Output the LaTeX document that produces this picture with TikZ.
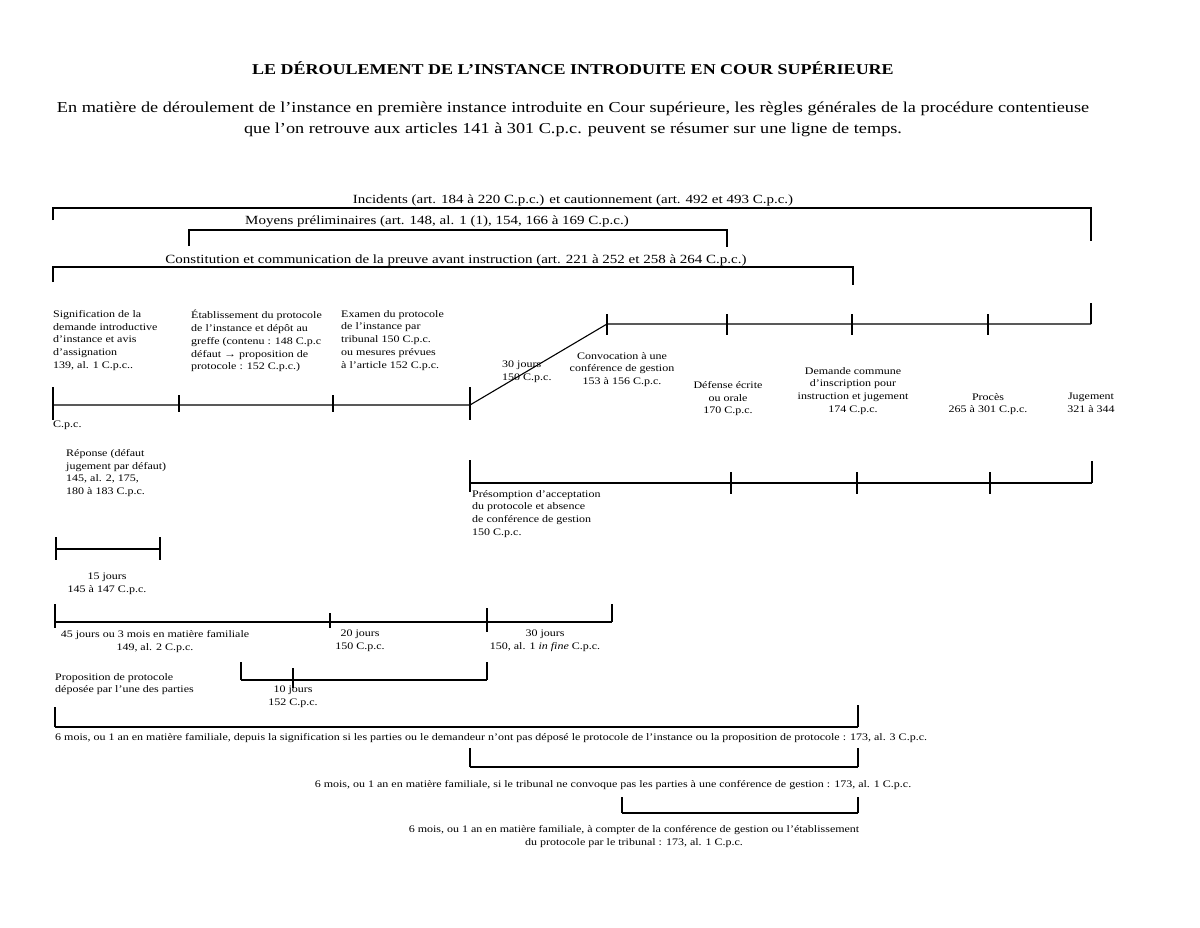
\documentclass[tikz,border=0pt]{standalone}
\usepackage{fontspec}
\setmainfont{Liberation Serif}[FakeStretch=1.2]
\begin{document}
\begin{tikzpicture}[x=1pt,y=-1pt,
  hl/.style={line width=1.1pt},
  tk/.style={line width=1.8pt},
  sm/.style={font=\fontsize{10}{12.8}\selectfont, inner sep=0pt},
  md/.style={font=\fontsize{12.5}{15}\selectfont, inner sep=0pt},
  lt/.style={sm, anchor=north west, align=left},
  ct/.style={sm, anchor=north, align=center}]
\useasboundingbox[fill=white] (0,0) rectangle (1200,927);
% title
\node[font=\fontsize{15}{18}\selectfont\bfseries, inner sep=0pt] (title) at (573,68) {LE DÉROULEMENT DE L’INSTANCE INTRODUITE EN COUR SUPÉRIEURE};
\node[font=\fontsize{15.2}{21}\selectfont, inner sep=0pt, align=center, anchor=north] (intro) at (573,102) {En matière de déroulement de l’instance en première instance introduite en Cour supérieure, les règles générales de la procédure contentieuse\\que l’on retrouve aux articles 141 à 301 C.p.c. peuvent se résumer sur une ligne de temps.};
% top brackets
\node[md, anchor=north] (inc) at (573,195) {Incidents (art. 184 à 220 C.p.c.) et cautionnement (art. 492 et 493 C.p.c.)};
\coordinate (incA) at (53,220); \coordinate (incB) at (53,208);
\coordinate (incC) at (1091,208); \coordinate (incD) at (1091,241);
\draw[hl] (incA) -- (incB) -- (incC) -- (incD);
\node[md, anchor=north] (moy) at (437,216) {Moyens préliminaires (art. 148, al. 1 (1), 154, 166 à 169 C.p.c.)};
\coordinate (moyA) at (189,246); \coordinate (moyB) at (189,230);
\coordinate (moyC) at (727,230); \coordinate (moyD) at (727,247);
\draw[hl] (moyA) -- (moyB) -- (moyC) -- (moyD);
\node[md, anchor=north] (con) at (456,255) {Constitution et communication de la preuve avant instruction (art. 221 à 252 et 258 à 264 C.p.c.)};
\coordinate (conA) at (53,282); \coordinate (conB) at (53,267);
\coordinate (conC) at (853,267); \coordinate (conD) at (853,285);
\draw[hl] (conA) -- (conB) -- (conC) -- (conD);
% main timeline
\coordinate (t0) at (53,405); \coordinate (t1) at (179,405); \coordinate (t2) at (333,405); \coordinate (t3) at (470,405);
\coordinate (u0) at (607,324); \coordinate (u1) at (727,324); \coordinate (u2) at (852,324); \coordinate (u3) at (988,324); \coordinate (u4) at (1091,324);
\draw[hl] (t0) -- (t3) -- (u0) -- (u4);
\draw[tk] (t0) ++(0,-18) -- ++(0,33);
\draw[tk] (t1) ++(0,-10) -- ++(0,17);
\draw[tk] (t2) ++(0,-10) -- ++(0,17);
\draw[tk] (t3) ++(0,-18) -- ++(0,33);
\draw[tk] (u0) ++(0,-10) -- ++(0,21);
\draw[tk] (u1) ++(0,-10) -- ++(0,21);
\draw[tk] (u2) ++(0,-10) -- ++(0,21);
\draw[tk] (u3) ++(0,-10) -- ++(0,21);
\draw[tk] (u4) -- ++(0,-21);
\node[lt] (sig) at (53,310) {Signification de la\\demande introductive\\d’instance et avis\\d’assignation\\139, al. 1 C.p.c..};
\node[lt] (eta) at (191,310) {Établissement du protocole\\de l’instance et dépôt au\\greffe (contenu : 148 C.p.c\\défaut → proposition de\\protocole : 152 C.p.c.)};
\node[lt] (exa) at (341,310) {Examen du protocole\\de l’instance par\\tribunal 150 C.p.c.\\ou mesures prévues\\à l’article 152 C.p.c.};
\node[lt] (tj) at (502,361) {30 jours\\150 C.p.c.};
\node[ct] (cvc) at (622,352) {Convocation à une\\conférence de gestion\\153 à 156 C.p.c.};
\node[ct] (def) at (728,381) {Défense écrite\\ou orale\\170 C.p.c.};
\node[ct] (dem) at (853,367) {Demande commune\\d’inscription pour\\instruction et jugement\\174 C.p.c.};
\node[ct] (pro) at (988,393) {Procès\\265 à 301 C.p.c.};
\node[ct] (jug) at (1091,393) {Jugement\\321 à 344};
\node[lt] (cpc) at (53,421) {C.p.c.};
\node[lt] (rep) at (66,449) {Réponse (défaut\\jugement par défaut)\\145, al. 2, 175,\\180 à 183 C.p.c.};
% presomption line
\coordinate (p0) at (470,483); \coordinate (p1) at (731,483); \coordinate (p2) at (857,483); \coordinate (p3) at (990,483); \coordinate (p4) at (1092,483);
\draw[hl] (p0) -- (p4);
\draw[tk] (p0) ++(0,-23) -- ++(0,32);
\draw[tk] (p1) ++(0,-11) -- ++(0,22);
\draw[tk] (p2) ++(0,-11) -- ++(0,22);
\draw[tk] (p3) ++(0,-11) -- ++(0,22);
\draw[tk] (p4) -- ++(0,-22);
\node[lt] (pre) at (472,490) {Présomption d’acceptation\\du protocole et absence\\de conférence de gestion\\150 C.p.c.};
% 15 jours
\coordinate (q0) at (56,549); \coordinate (q1) at (160,549);
\draw[hl] (q0) -- (q1);
\draw[tk] (q0) ++(0,-12) -- ++(0,23);
\draw[tk] (q1) ++(0,-12) -- ++(0,23);
\node[ct] (qj) at (107,573) {15 jours\\145 à 147 C.p.c.};
% 45 jours line
\coordinate (r0) at (55,622); \coordinate (r1) at (330,622); \coordinate (r2) at (487,622); \coordinate (r3) at (612,622);
\draw[hl] (r0) -- (r3);
\draw[tk] (r0) ++(0,-18) -- ++(0,24);
\draw[tk] (r1) ++(0,-9) -- ++(0,15);
\draw[tk] (r2) ++(0,-14) -- ++(0,24);
\draw[tk] (r3) -- ++(0,-18);
\node[ct] (fj) at (155,630) {45 jours ou 3 mois en matière familiale\\149, al. 2 C.p.c.};
\node[ct] (vj) at (360,630) {20 jours\\150 C.p.c.};
\node[ct] (trj) at (545,630) {30 jours\\150, al. 1 \textit{in fine} C.p.c.};
% 10 jours bracket
\coordinate (s0) at (241,680); \coordinate (s1) at (293,680); \coordinate (s2) at (487,680);
\draw[hl] (s0) -- (s2);
\draw[tk] (s0) -- ++(0,-18);
\draw[tk] (s1) ++(0,-12) -- ++(0,20);
\draw[tk] (s2) -- ++(0,-18);
\node[lt] (prop) at (55,673) {Proposition de protocole\\déposée par l’une des parties};
\node[ct] (dj) at (293,686) {10 jours\\152 C.p.c.};
% bottom brackets
\coordinate (b1a) at (55,727); \coordinate (b1b) at (858,727);
\draw[hl] (b1a) -- (b1b);
\draw[tk] (b1a) -- ++(0,-20);
\draw[tk] (b1b) -- ++(0,-22);
\node[lt] (m1) at (55,733) {6 mois, ou 1 an en matière familiale, depuis la signification si les parties ou le demandeur n’ont pas déposé le protocole de l’instance ou la proposition de protocole : 173, al. 3 C.p.c.};
\coordinate (b2a) at (470,767); \coordinate (b2b) at (858,767);
\draw[hl] (b2a) -- (b2b);
\draw[tk] (b2a) -- ++(0,-19);
\draw[tk] (b2b) -- ++(0,-19);
\node[ct] (m2) at (613,780) {6 mois, ou 1 an en matière familiale, si le tribunal ne convoque pas les parties à une conférence de gestion : 173, al. 1 C.p.c.};
\coordinate (b3a) at (622,813); \coordinate (b3b) at (858,813);
\draw[hl] (b3a) -- (b3b);
\draw[tk] (b3a) -- ++(0,-16);
\draw[tk] (b3b) -- ++(0,-16);
\node[ct] (m3) at (634,825) {6 mois, ou 1 an en matière familiale, à compter de la conférence de gestion ou l’établissement\\du protocole par le tribunal : 173, al. 1 C.p.c.};
\end{tikzpicture}
\end{document}
